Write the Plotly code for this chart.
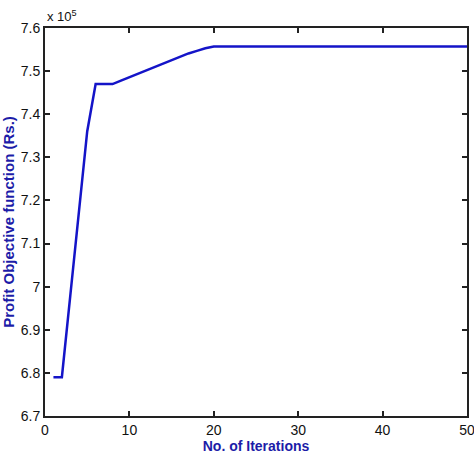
import plotly.graph_objects as go

# Data (profit in units of 1e5 Rs.)
iterations = list(range(1, 51))
profit_head = [6.79, 6.79, 6.98, 7.17, 7.36, 7.47, 7.47, 7.47, 7.478, 7.486,
               7.494, 7.502, 7.510, 7.518, 7.526, 7.534, 7.541, 7.547, 7.553, 7.557]
profit_tail = [7.557] * 30
profit = profit_head + profit_tail

x_tick_vals = [0, 10, 20, 30, 40, 50]
y_tick_vals = [6.7, 6.8, 6.9, 7.0, 7.1, 7.2, 7.3, 7.4, 7.5, 7.6]
y_tick_text = ["6.7", "6.8", "6.9", "7", "7.1", "7.2", "7.3", "7.4", "7.5", "7.6"]

font_family = "Liberation Sans, Arial, sans-serif"
title_color = "#1c1ca8"

fig = go.Figure()
fig.add_trace(go.Scatter(
    x=iterations, y=profit, mode="lines",
    line=dict(color="#1414c8", width=2.5),
    showlegend=False,
))

axis_common = dict(
    showline=True, linecolor="#222222", linewidth=2,
    ticks="inside", ticklen=5, tickwidth=1.5, tickcolor="#222222",
    mirror="ticks", showgrid=False, zeroline=False, automargin=False,
    ticklabeloverflow="allow",
    tickfont=dict(family=font_family, size=14, color="#111111"),
)

fig.update_layout(
    width=474, height=460,
    margin=dict(l=45, r=7, t=28, b=44),
    paper_bgcolor="white", plot_bgcolor="white",
    xaxis=dict(
        range=[0, 50], tickvals=x_tick_vals,
        title=dict(text="<b>No. of Iterations</b>", standoff=0,
                   font=dict(family=font_family, size=14, color=title_color)),
        **axis_common,
    ),
    yaxis=dict(
        range=[6.7, 7.6], tickvals=y_tick_vals, ticktext=y_tick_text,
        title=dict(text="<b>Profit Objective function (Rs.)</b>", standoff=4,
                   font=dict(family=font_family, size=15, color=title_color)),
        **axis_common,
    ),
    annotations=[dict(
        text="x 10<sup>5</sup>", xref="paper", yref="paper",
        x=0, y=1, xanchor="left", yanchor="bottom", yshift=2, showarrow=False,
        font=dict(family=font_family, size=13, color="#111111"),
    )],
)

fig.write_html("out.html", config={"displayModeBar": False},
               post_script="document.body.style.margin='0';")
